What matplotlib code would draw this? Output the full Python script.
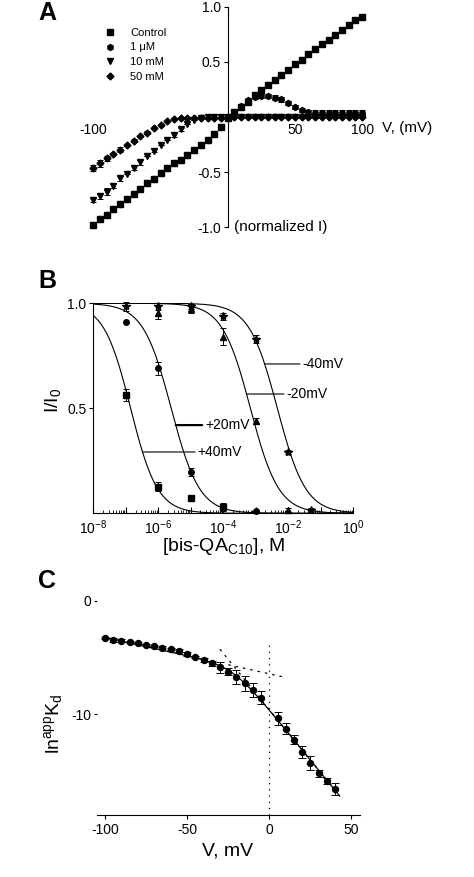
"""Three-panel block figure: I-V curves (A), dose-response (B), ln Kd vs V (C)."""
import matplotlib
matplotlib.use("Agg")
import matplotlib.pyplot as plt
import numpy as np
from matplotlib.lines import Line2D
from matplotlib.ticker import FixedLocator, FuncFormatter, NullFormatter

plt.rcParams["font.family"] = ["Liberation Sans", "DejaVu Sans"]
plt.rcParams["mathtext.fontset"] = "custom"
plt.rcParams["mathtext.rm"] = "Liberation Sans"
plt.rcParams["mathtext.it"] = "Liberation Sans:italic"
plt.rcParams["mathtext.bf"] = "Liberation Sans:bold"

# ---------------- panel A: normalized I-V ----------------
V_A = [-100, -95, -90, -85, -80, -75, -70, -65, -60, -55, -50, -45, -40, -35, -30,
       -25, -20, -15, -10, -5, 0, 5, 10, 15, 20, 25, 30, 35, 40, 45, 50, 55, 60,
       65, 70, 75, 80, 85, 90, 95, 100]
I_control = [-0.98, -0.92, -0.885, -0.83, -0.785, -0.74, -0.695, -0.65, -0.6, -0.56,
             -0.51, -0.465, -0.42, -0.39, -0.345, -0.3, -0.25, -0.21, -0.15, -0.09, -0.01,
             0.048, 0.094, 0.14, 0.2, 0.245, 0.29, 0.336, 0.38, 0.43, 0.48, 0.52, 0.57,
             0.615, 0.66, 0.70, 0.745, 0.785, 0.83, 0.875, 0.906]
I_1uM = [-0.98, -0.92, -0.885, -0.83, -0.785, -0.74, -0.695, -0.65, -0.6, -0.56,
         -0.51, -0.465, -0.42, -0.39, -0.345, -0.3, -0.25, -0.21, -0.15, -0.09, -0.01,
         0.045, 0.1, 0.15, 0.185, 0.19, 0.19, 0.175, 0.16, 0.125, 0.09, 0.06, 0.045,
         0.04, 0.04, 0.04, 0.04, 0.04, 0.04, 0.04, 0.04]
I_10mM = [-0.75, -0.715, -0.675, -0.62, -0.555, -0.515, -0.46, -0.41, -0.355, -0.305,
          -0.255, -0.205, -0.16, -0.11, -0.065, -0.025, -0.01, 0, 0, 0, 0,
          0, 0, 0, 0, 0, 0, 0, 0, 0, 0, 0, 0, 0, 0, 0, 0, 0, 0, 0, 0]
I_50mM = [-0.46, -0.42, -0.375, -0.335, -0.295, -0.255, -0.215, -0.175, -0.14, -0.1,
          -0.07, -0.04, -0.02, -0.01, -0.01, -0.01, -0.01, -0.01, -0.01, -0.01, 0,
          0, 0, 0, 0, 0, 0, 0, 0, 0, 0, 0, 0, 0, 0, 0, 0, 0, 0, 0, 0]
err_control = [0] * 24 + [0.015, 0.015, 0.015, 0.015, 0.015] + [0] * 12
err_1uM = [0] * 25 + [0.02, 0.02, 0.02, 0.02, 0.02, 0.015, 0.015, 0.02,
                      0.02, 0.02, 0.02, 0.02, 0.02, 0.02, 0.02, 0.02]
err_10mM = [0.02, 0.03, 0.03, 0.02, 0.025, 0, 0.02, 0.02, 0, 0.015, 0, 0, 0.02, 0.015] + [0] * 27
err_50mM = [0.03, 0.03, 0.02, 0, 0.02, 0, 0.015, 0, 0.01] + [0] * 32

# ---------------- panel B: dose-response ----------------
B_labels = ["-40mV", "-20mV", "+20mV", "+40mV"]
B_markers = ["*", "^", "o", "s"]
conc_m40 = [1e-7, 1e-6, 1e-5, 1e-4, 1e-3, 1e-2, 5e-2]
frac_m40 = [0.985, 0.985, 0.985, 0.937, 0.83, 0.29, 0.016]
errB_m40 = [0.02, 0.015, 0.01, 0.015, 0.02, 0.01, 0.01]
conc_m20 = [1e-6, 1e-5, 1e-4, 1e-3, 1e-2]
frac_m20 = [0.955, 0.975, 0.84, 0.44, 0.016]
errB_m20 = [0.03, 0.02, 0.04, 0.015, 0.01]
conc_p20 = [1e-7, 1e-6, 1e-5, 1e-4, 1e-3]
frac_p20 = [0.912, 0.69, 0.198, 0.03, 0.013]
errB_p20 = [0.0, 0.03, 0.02, 0.02, 0.0]
conc_p40 = [1e-7, 1e-6, 1e-5, 1e-4]
frac_p40 = [0.563, 0.127, 0.071, 0.03]
errB_p40 = [0.03, 0.02, 0.0, 0.01]
# Hill fits: log10 IC50 and Hill coefficient
log_ic50 = [-2.33, -3.16, -5.6, -6.85]
hill_n = [1.0, 1.0, 1.0, 1.05]
# label placement: fraction where the leader line meets the curve, log10 x of label
label_frac = [0.711, 0.568, 0.42, 0.292]
label_logx = [-1.55, -2.04, -4.56, -4.78]
label_lw = [0.8, 0.8, 1.6, 0.8]

# ---------------- panel C: ln Kd vs V ----------------
V_C = [-100, -95, -90, -85, -80, -75, -70, -65, -60, -55, -50, -45, -40, -35, -30,
       -25, -20, -15, -10, -5, 5, 10, 15, 20, 25, 30, 35, 40]
lnKd = [-3.32, -3.47, -3.53, -3.62, -3.76, -3.91, -4.0, -4.15, -4.29, -4.4, -4.7,
        -5.0, -5.23, -5.53, -5.88, -6.27, -6.72, -7.3, -7.88, -8.55, -10.38, -11.28,
        -12.27, -13.35, -14.29, -15.24, -15.9, -16.62]
err_lnKd = [0.1, 0.15, 0.15, 0.1, 0.1, 0.1, 0.1, 0.15, 0.1, 0.1, 0.15, 0.1, 0.2, 0.2,
            0.5, 0.3, 0.6, 0.7, 0.6, 0.6, 0.6, 0.5, 0.4, 0.5, 0.6, 0.3, 0.3, 0.5]
# linear limbs of the fit: (intercept at 0 mV, slope per mV, V start, V end)
steep_fit = (-9.62, -0.1776, -30, 45)
shallow_fit = (-6.45, -0.032, -25, 10)
fit_range = (-100, 42)
vline_top = -3.5


def main() -> None:
    fig = plt.figure(figsize=(4.74, 8.77), dpi=100)

    # ===== A =====
    axA = fig.add_axes([0.1827, 0.7343, 0.5954, 0.2645])
    axA.set_xlim(-105, 105)
    axA.set_ylim(-1.05, 1.05)
    for sp in ("top", "right", "bottom"):
        axA.spines[sp].set_visible(False)
    axA.spines["left"].set_position(("data", 0))
    axA.spines["left"].set_bounds(-1.0, 1.0)
    axA.spines["bottom"].set_position(("data", 0))
    axA.set_yticks([-1.0, -0.5, 0.5, 1.0])
    axA.set_yticklabels(["-1.0", "-0.5", "0.5", "1.0"])
    axA.set_xticks([-100, 50, 100])
    axA.set_xticklabels(["-100", "50", "100"])
    axA.tick_params(axis="x", length=0, pad=4, labelsize=10)
    axA.tick_params(axis="y", direction="out", length=3, width=0.8, pad=2, labelsize=10)

    seriesA = [("Control", I_control, err_control, "s"),
               ("1 \u03bcM", I_1uM, err_1uM, "h"),
               ("10 mM", I_10mM, err_10mM, "v"),
               ("50 mM", I_50mM, err_50mM, "D")]
    handles = []
    for label, vals, err, mk in seriesA:
        ms = 3.5 if mk == "D" else 4.3
        axA.errorbar(V_A, vals, yerr=err, fmt=mk, ms=ms, color="k", ecolor="k",
                     elinewidth=0.7, capsize=2, capthick=0.7, clip_on=False)
        handles.append(Line2D([], [], ls="none", marker=mk, ms=ms, color="k"))
    axA.legend(handles, [s[0] for s in seriesA], loc="upper left",
               bbox_to_anchor=(0.063, 0.885), frameon=False, fontsize=8,
               handlelength=1.0, handletextpad=1.3, labelspacing=0.42,
               borderaxespad=0, borderpad=0, numpoints=1)
    axA.text(115, -0.1, "V, (mV)", fontsize=11, ha="left", va="center")
    axA.text(5, -1.0, "(normalized I)", fontsize=11, ha="left", va="center")

    # ===== B =====
    axB = fig.add_axes([0.1968, 0.4147, 0.5479, 0.2395])
    axB.set_xscale("log")
    axB.set_xlim(1e-8, 1e0)
    axB.set_ylim(0, 1.0)
    axB.spines["top"].set_visible(False)
    axB.spines["right"].set_visible(False)
    decades = list(range(-8, 1))
    axB.xaxis.set_major_locator(FixedLocator([10.0 ** d for d in decades]))
    axB.xaxis.set_major_formatter(FuncFormatter(
        lambda x, pos: "$10^{%d}$" % round(np.log10(x)) if round(np.log10(x)) % 2 == 0 else ""))
    axB.xaxis.set_minor_locator(FixedLocator(
        [k * 10.0 ** d for d in decades[:-1] for k in range(2, 10)]))
    axB.xaxis.set_minor_formatter(NullFormatter())
    axB.tick_params(axis="x", which="major", direction="in", length=4, width=0.8,
                    pad=4, labelsize=10)
    axB.tick_params(axis="x", which="minor", direction="in", length=2.5, width=0.6)
    axB.set_yticks([0.5, 1.0])
    axB.set_yticklabels(["0.5", "1.0"])
    axB.tick_params(axis="y", direction="out", length=3, width=0.8, pad=2, labelsize=10)

    c_fit = np.logspace(-8, 0, 400)
    B_data = [(conc_m40, frac_m40, errB_m40), (conc_m20, frac_m20, errB_m20),
              (conc_p20, frac_p20, errB_p20), (conc_p40, frac_p40, errB_p40)]
    for i, (conc, frac, err) in enumerate(B_data):
        k = 10.0 ** log_ic50[i]
        axB.plot(c_fit, 1.0 / (1.0 + (c_fit / k) ** hill_n[i]), color="k", lw=0.8)
        ms = 6 if B_markers[i] == "*" else 4
        axB.errorbar(conc, frac, yerr=err, fmt=B_markers[i], ms=ms, color="k",
                     ecolor="k", elinewidth=0.7, capsize=2, capthick=0.7, clip_on=False)
        x_on_curve = k * (1.0 / label_frac[i] - 1.0) ** (1.0 / hill_n[i])
        axB.annotate(B_labels[i], xy=(x_on_curve, label_frac[i]),
                     xytext=(10.0 ** label_logx[i], label_frac[i]),
                     fontsize=10, ha="left", va="center",
                     arrowprops=dict(arrowstyle="-", lw=label_lw[i], color="k",
                                     shrinkA=0, shrinkB=0))
    axB.set_ylabel("I/I$_0$", fontsize=14)
    axB.yaxis.set_label_coords(-0.117, 0.54)
    axB.set_xlabel("[bis-QA$_{\\mathrm{C10}}$], M", fontsize=14)
    axB.xaxis.set_label_coords(0.503, -0.11)

    # ===== C =====
    axC = fig.add_axes([0.2040, 0.0707, 0.5549, 0.2444])
    axC.set_xlim(-105, 55)
    axC.set_ylim(-18.9, 0)
    for sp in ("top", "right", "left"):
        axC.spines[sp].set_visible(False)
    axC.set_xticks([-100, -50, 0, 50])
    axC.set_xticklabels(["-100", "-50", "0", "50"])
    axC.tick_params(axis="x", direction="out", length=3, width=0.8, pad=3, labelsize=10)
    axC.set_yticks([0, -10])
    axC.set_yticklabels(["0", "-10"])
    axC.tick_params(axis="y", direction="out", length=2, width=0.8, pad=2, labelsize=10)

    b_s, m_s, vs0, vs1 = steep_fit
    b_h, m_h, vh0, vh1 = shallow_fit
    v_fit = np.linspace(fit_range[0], fit_range[1], 300)
    y_fit = -np.log(np.exp(-(b_s + m_s * v_fit)) + np.exp(-(b_h + m_h * v_fit)))
    axC.plot(v_fit, y_fit, color="k", lw=0.9)
    vs = np.array([vs0, vs1])
    axC.plot(vs, b_s + m_s * vs, color="k", lw=0.9, ls=(0, (2, 4)))
    vh = np.array([vh0, vh1])
    axC.plot(vh, b_h + m_h * vh, color="k", lw=0.9, ls=(0, (2, 4)))
    axC.vlines(0, axC.get_ylim()[0], vline_top, color="k", lw=0.9, ls=(0, (1, 4)))
    axC.errorbar(V_C, lnKd, yerr=err_lnKd, fmt="o", ms=4.3, color="k", ecolor="k",
                 elinewidth=0.7, capsize=2.8, capthick=0.7, clip_on=False)
    axC.set_xlabel("V, mV", fontsize=14)
    axC.xaxis.set_label_coords(0.499, -0.13)
    axC.set_ylabel("ln$^{\\mathrm{app}}$K$_{\\mathrm{d}}$", fontsize=14)
    axC.yaxis.set_label_coords(-0.12, 0.425)

    # panel letters
    for letter, top in (("A", 1.0), ("B", 269.0), ("C", 569.0)):
        fig.text(38 / 474, 1 - top / 877, letter, fontsize=18, fontweight="bold",
                 ha="left", va="top")

    fig.savefig("out.png", dpi=100)
    plt.close(fig)


if __name__ == "__main__":
    main()
